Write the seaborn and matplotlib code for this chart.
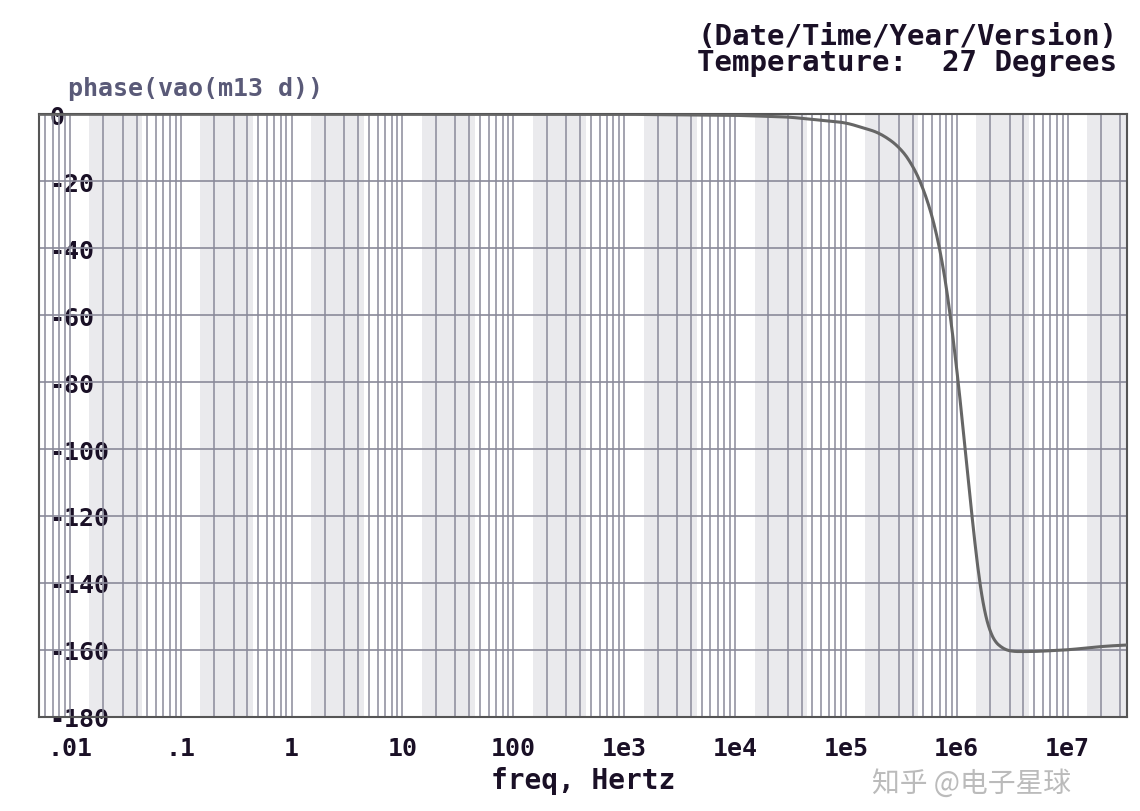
import numpy as np
import pandas as pd
import matplotlib
matplotlib.use("Agg")
import matplotlib.pyplot as plt
import seaborn as sns

# phase response
freq = [0.005, 0.01, 1, 100, 1e3, 1e4, 3e4, 1e5, 2e5, 3e5, 4e5, 5e5, 6e5, 7e5, 8e5,
        9e5, 1e6, 1.2e6, 1.4e6, 1.6e6, 1.8e6, 2e6, 2.5e6, 3e6, 5e6, 1e7, 2e7, 3.5e7]
phase = [0, 0, 0, 0, 0, -0.3, -0.8, -2.5, -5.5, -9.5, -15, -22, -30, -39, -50,
         -62, -76, -100, -124, -141, -151, -156, -159.5, -160.5, -160.5, -160, -159, -158.5]

yticks = [0, -20, -40, -60, -80, -100, -120, -140, -160, -180]
xticks = [0.01, 0.1, 1, 10, 100, 1e3, 1e4, 1e5, 1e6, 1e7]
xlabels = [".01", ".1", "1", "10", "100", "1e3", "1e4", "1e5", "1e6", "1e7"]

sns.set_style("white")
plt.rcParams['font.family'] = ['DejaVu Sans Mono', 'Noto Sans CJK SC']

df = pd.DataFrame({"freq": freq, "phase": phase})
# denser points on log axis so the line looks smooth
lf = np.log10(df["freq"])
fine = np.linspace(lf.min(), lf.max(), 800)
ph = np.interp(fine, lf, df["phase"])
ph = np.convolve(np.pad(ph, 6, mode="edge"), np.ones(13) / 13, mode="valid")
smooth = pd.DataFrame({"freq": 10 ** fine, "phase": ph})

fig = plt.figure(figsize=(11.4, 8.12), dpi=100)
ax = fig.add_axes([0.034, 0.116, 0.955, 0.742])
ax.set_xscale("log")
ax.set_xlim(10 ** -2.28, 10 ** 7.54)
ax.set_ylim(-180, 0)

# shaded bands and minor grid
for d in range(-3, 8):
    base = 10.0 ** d
    ax.axvspan(base * 1.5, base * 4.5, color="#e2e2e6", alpha=0.7, lw=0, zorder=0)
    for m in range(1, 10):
        ax.axvline(base * m, color="#8a8a9a", lw=1.1, zorder=1)
for y in yticks:
    ax.axhline(y, color="#8a8a9a", lw=1.2, zorder=1)

sns.lineplot(data=smooth, x="freq", y="phase", ax=ax, color="#666666", lw=2.2, zorder=3)

ax.set_xticks(xticks)
ax.set_xticklabels(xlabels, fontsize=18, fontweight="bold", color="#1a1026")
ax.set_xticks([], minor=True)
ax.set_yticks(yticks)
ax.set_yticklabels(["0"] + [str(v) for v in yticks[1:]], fontsize=18,
                   fontweight="bold", color="#1a1026")
ax.tick_params(axis="y", direction="in", pad=-8, length=0)
ax.tick_params(axis="x", length=0, pad=14)
for lab in ax.get_yticklabels():
    lab.set_horizontalalignment("left")
ax.set_xlabel("freq, Hertz", fontsize=20, fontweight="bold", color="#1a1026")
ax.set_ylabel("")
for s in ax.spines.values():
    s.set_color("#555555")
    s.set_linewidth(1.5)

fig.text(0.06, 0.882, "phase(vao(m13 d))", fontsize=18, fontweight="bold", color="#5a5a78")
fig.text(0.98, 0.955, "(Date/Time/Year/Version)", fontsize=21, fontweight="bold",
         color="#1a1026", ha="right", va="center")
fig.text(0.98, 0.922, "Temperature:  27 Degrees", fontsize=21, fontweight="bold",
         color="#1a1026", ha="right", va="center")
fig.text(0.765, 0.025, "知乎 @电子星球", fontsize=20, color="#bbbbbb",
         family=['Noto Sans CJK SC', 'DejaVu Sans'])

fig.savefig("out.png", dpi=100, facecolor="white")
